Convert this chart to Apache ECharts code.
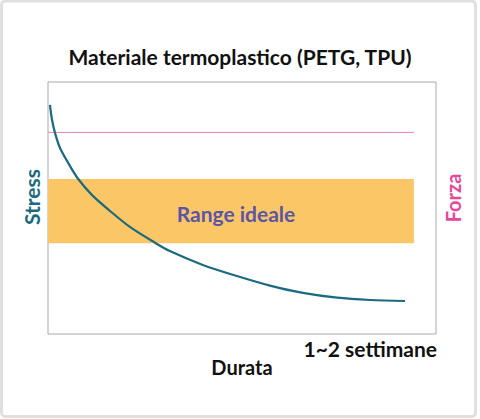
<!DOCTYPE html>
<html>
<head>
<meta charset="utf-8">
<script src="https://cdn.jsdelivr.net/npm/echarts@6/dist/echarts.min.js"></script>
<style>
  html, body { margin: 0; padding: 0; background: #fff; }
  #chart { width: 480px; height: 419px; }
</style>
</head>
<body>
<div id="chart"></div>
<script>
// curve (x = durata 0..100, y = stress 0..100)
const durata = [0.5, 1.0, 1.8, 3.1, 5.2, 7.7, 11.3, 16.0, 21.1, 27.6, 31.4, 39.9, 48.7, 57.2, 65.7, 74.5, 83.0, 92.0];
const stress = [90.9, 85.3, 79.8, 73.8, 67.9, 61.7, 55.2, 48.8, 42.5, 36.2, 32.9, 27.4, 23.0, 19.2, 16.3, 14.4, 13.5, 13.1];
const forzaX = [0, 94.3];
const forzaY = [80, 80];
const rangeIdeale = [36, 61.5];   // band bottom / top
const rangeX = [0, 94.3];

const FONT = 'Lato, "Open Sans", sans-serif';
const TEAL = '#1b6a80';
const PINK = '#e8479a';

const chart = echarts.init(document.getElementById('chart'), null, { renderer: 'svg' });

const hidden = { axisLine: { show: false }, axisTick: { show: false }, axisLabel: { show: false }, splitLine: { show: false } };

chart.setOption({
  backgroundColor: '#fff',
  animation: false,
  title: {
    text: 'Materiale termoplastico (PETG, TPU)',
    left: 'center',
    top: 41,
    textStyle: { fontFamily: FONT, fontSize: 21, fontWeight: 'bold', color: '#111' }
  },
  graphic: [
    {
      type: 'rect',
      shape: { x: 1.5, y: 1, width: 474, height: 415.5, r: 4 },
      style: { fill: 'none', stroke: '#e0e0e0', lineWidth: 3 },
      z: -1
    },
    {
      type: 'text',
      right: 43,
      top: 338,
      style: { text: '1~2 settimane', font: 'bold 21px Lato, "Open Sans", sans-serif', fill: '#111' }
    },
    {
      type: 'text',
      x: 31, y: 197, rotation: Math.PI / 2,
      style: { text: 'Stress', font: 'bold 21px Lato, "Open Sans", sans-serif', fill: TEAL, align: 'center', verticalAlign: 'middle' }
    },
    {
      type: 'text',
      x: 452.5, y: 198, rotation: Math.PI / 2,
      style: { text: 'Forza', font: 'bold 20px Lato, "Open Sans", sans-serif', fill: PINK, align: 'center', verticalAlign: 'middle' }
    }
  ],
  grid: { left: 48, right: 44, top: 82, bottom: 85, show: true, borderColor: '#aaa', borderWidth: 1, containLabel: false },
  xAxis: Object.assign({
    type: 'value', min: 0, max: 100,
    name: 'Durata', nameLocation: 'middle', nameGap: 23,
    nameTextStyle: { fontFamily: FONT, fontSize: 20, fontWeight: 'bold', color: '#111' }
  }, hidden),
  yAxis: Object.assign({ type: 'value', min: 0, max: 100 }, hidden),
  series: [
    {
      name: 'Range',
      type: 'line',
      data: [],
      markArea: {
        silent: true,
        itemStyle: { color: '#fbc766', opacity: 1 },
        label: {
          show: true, position: 'inside', offset: [5, 2],
          fontFamily: FONT, fontSize: 21, fontWeight: 'bold', color: '#5b55a5'
        },
        data: [[
          { name: 'Range ideale', xAxis: rangeX[0], yAxis: rangeIdeale[0] },
          { xAxis: rangeX[1], yAxis: rangeIdeale[1] }
        ]]
      }
    },
    {
      name: 'Forza',
      type: 'line',
      data: forzaX.map((x, i) => [x, forzaY[i]]),
      showSymbol: false,
      lineStyle: { color: '#ee80b6', width: 1 },
      silent: true
    },
    {
      name: 'Stress',
      type: 'line',
      data: durata.map((x, i) => [x, stress[i]]),
      smooth: 0.3,
      showSymbol: false,
      lineStyle: { color: TEAL, width: 2.2 },
      silent: true
    }
  ]
});
</script>
</body>
</html>
